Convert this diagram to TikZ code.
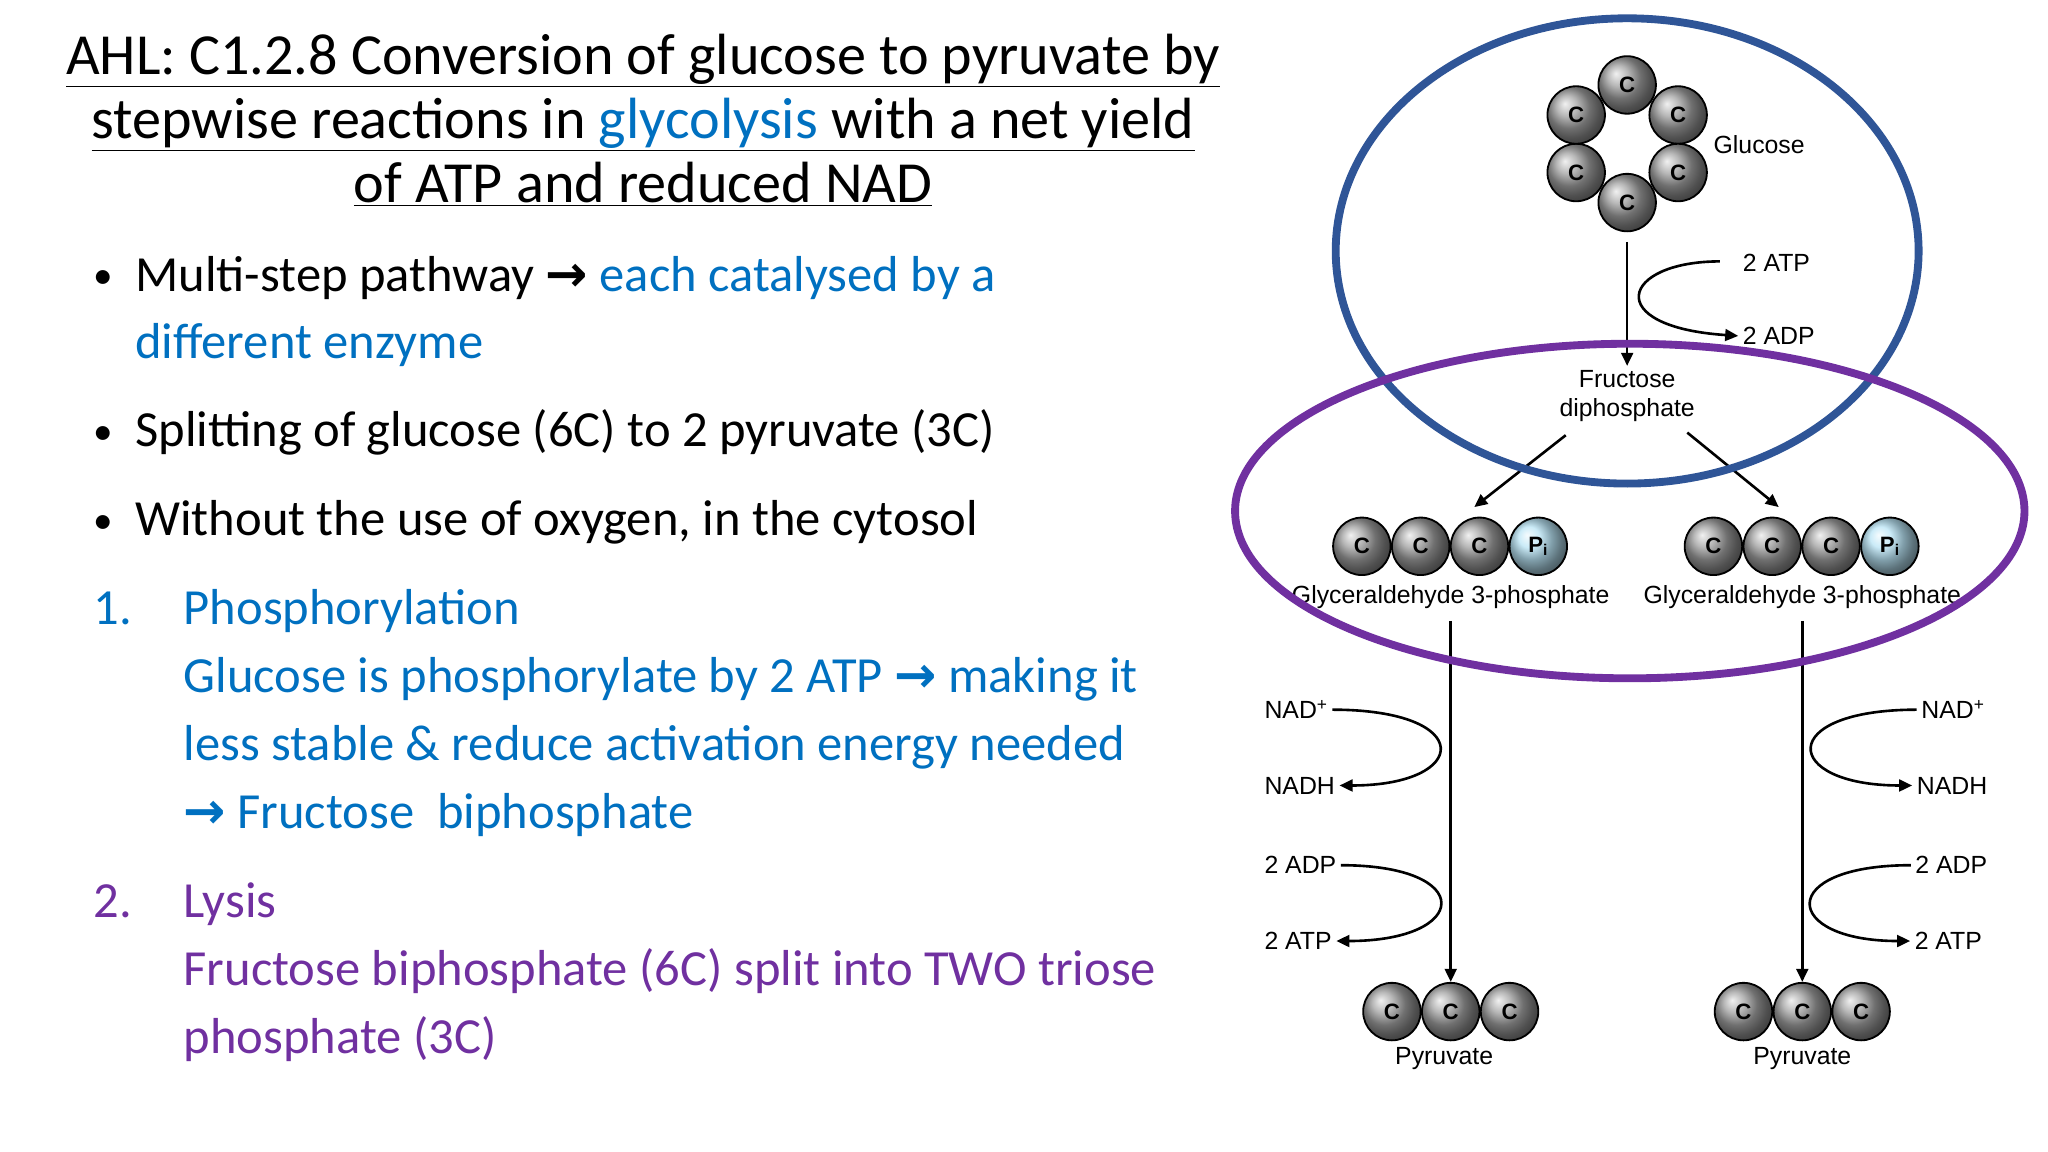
\documentclass[tikz,border=0pt]{standalone}
\usepackage{fontspec}
\setmainfont{Carlito}
\newfontfamily\arial{Liberation Sans}
\newfontfamily\dejavu{DejaVu Sans}
\usetikzlibrary{arrows.meta,shadings}
\definecolor{tblue}{RGB}{0,112,192}
\definecolor{tpurple}{RGB}{112,48,160}
\definecolor{eblue}{RGB}{47,85,151}
\definecolor{epurple}{RGB}{112,48,160}
\definecolor{piblue}{RGB}{185,228,245}
\newcommand{\rarr}{{\dejavu\bfseries →}}
\newcommand{\ul}[1]{\underline{#1}}
\tikzset{
  cball/.style={circle,draw=black,line width=1.4pt,minimum size=44pt,inner sep=0pt,ball color=gray!75,font=\arial\fontsize{17}{17}\selectfont\bfseries},
  piball/.style={cball,ball color=piblue},
  lab/.style={font=\arial\fontsize{19}{22}\selectfont,align=center},
  arr/.style={line width=2pt,-{Triangle[length=10pt,width=9pt]}},
  title/.style={font=\fontsize{44.5}{49}\selectfont,anchor=base},
  body/.style={font=\fontsize{38.7}{40}\selectfont,anchor=base west},
}
\begin{document}
\begin{tikzpicture}[x=1pt,y=-1pt]
\useasboundingbox (0,0) rectangle (1567,881);
% title
\node[title] (t1) at (492,57) {\ul{AHL: C1.2.8 Conversion of glucose to pyruvate by}};
\node[title] (t2) at (492,106) {\ul{stepwise reactions in \textcolor{tblue}{glycolysis} with a net yield}};
\node[title] (t3) at (492,155) {\ul{of ATP and reduced NAD}};
% bullets
\node[body,font=\fontsize{30}{30}\selectfont] (b1) at (68,221) {•};
\node[body] (b1t) at (100,223) {Multi-step pathway \rarr{} \textcolor{tblue}{each catalysed by a}};
\node[body,text=tblue] (b1u) at (100,274) {different enzyme};
\node[body,font=\fontsize{30}{30}\selectfont] (b2) at (68,340) {•};
\node[body] (b2t) at (100,342) {Splitting of glucose (6C) to 2 pyruvate (3C)};
\node[body,font=\fontsize{30}{30}\selectfont] (b3) at (68,408) {•};
\node[body] (b3t) at (100,410) {Without the use of oxygen, in the cytosol};
\node[body,text=tblue] (n1) at (68,478) {1.};
\node[body,text=tblue] (n1a) at (137,478) {Phosphorylation};
\node[body,text=tblue] (n1b) at (137,530) {Glucose is phosphorylate by 2 ATP \rarr{} making it};
\node[body,text=tblue] (n1c) at (137,582) {less stable \& reduce activation energy needed};
\node[body,text=tblue] (n1d) at (137,634) {\rarr{} Fructose\ \ biphosphate};
\node[body,text=tpurple] (n2) at (68,702) {2.};
\node[body,text=tpurple] (n2a) at (137,702) {Lysis};
\node[body,text=tpurple] (n2b) at (137,754) {Fructose biphosphate (6C) split into TWO triose};
\node[body,text=tpurple] (n2c) at (137,806) {phosphate (3C)};
% glucose ring
\foreach \n/\x/\y in {g1/1245/65,g2/1284/88,g3/1284/132,g4/1245/155,g5/1206/132,g6/1206/88}
  \node[cball] (\n) at (\x,\y) {C};
\node[lab] (glu) at (1346,111) {Glucose};
\node[lab] (fru) at (1245,303) {Fructose\\diphosphate};
\coordinate (gs) at (1245,185);
\draw[arr] (gs) -- (fru.north);
\node[lab,anchor=west] (atp) at (1330,201) {2 ATP};
\node[lab,anchor=west] (adp) at (1330,257) {2 ADP};
\coordinate (a0) at (1316,200);
\draw[arr] (a0) .. controls (1240,200) and (1225,250) .. (adp.west);
% split
\foreach \n/\x in {l1/1042,l2/1087,l3/1132} \node[cball] (\n) at (\x,418) {C};
\node[piball] (l4) at (1177,418) {P\textsubscript{i}};
\foreach \n/\x in {r1/1311,r2/1356,r3/1401} \node[cball] (\n) at (\x,418) {C};
\node[piball] (r4) at (1446,418) {P\textsubscript{i}};
\node[lab] (gl) at (1110,457) {Glyceraldehyde 3-phosphate};
\node[lab] (gr) at (1379,457) {Glyceraldehyde 3-phosphate};
\coordinate (fl) at (1198,333); \coordinate (fr) at (1291,331);
\coordinate (tl) at (1128,388); \coordinate (tr) at (1361,388);
\draw[arr] (fl) -- (tl);
\draw[arr] (fr) -- (tr);
% pyruvate
\foreach \n/\x in {p1/1065,p2/1110,p3/1155} \node[cball] (\n) at (\x,774) {C};
\foreach \n/\x in {q1/1334,q2/1379,q3/1424} \node[cball] (\n) at (\x,774) {C};
\node[lab] (pl) at (1105,810) {Pyruvate};
\node[lab] (pr) at (1379,810) {Pyruvate};
\coordinate (vl) at (1110,475); \coordinate (vr) at (1379,475);
\draw[arr] (vl) -- (p2.north);
\draw[arr] (vr) -- (q2.north);
% side labels
\node[lab,anchor=west] (nadl) at (964,543) {NAD\textsuperscript{+}};
\node[lab,anchor=west] (nadhl) at (964,601) {NADH};
\node[lab,anchor=west] (adpl) at (964,662) {2 ADP};
\node[lab,anchor=west] (atpl) at (964,720) {2 ATP};
\draw[arr] (nadl.east) .. controls (1130,543) and (1125,601) .. (nadhl.east);
\draw[arr] (adpl.east) .. controls (1130,662) and (1125,720) .. (atpl.east);
\node[lab,anchor=east] (nadr) at (1522,543) {NAD\textsuperscript{+}};
\node[lab,anchor=east] (nadhr) at (1524,601) {NADH};
\node[lab,anchor=east] (adpr) at (1524,662) {2 ADP};
\node[lab,anchor=east] (atpr) at (1520,720) {2 ATP};
\draw[arr] (nadr.west) .. controls (1358,543) and (1363,601) .. (nadhr.west);
\draw[arr] (adpr.west) .. controls (1358,662) and (1363,720) .. (atpr.west);
% ellipses
\draw[eblue,line width=6pt] (1245,192) ellipse [x radius=223, y radius=178];
\draw[epurple,line width=6pt] (1247,391) ellipse [x radius=302, y radius=128];
\end{tikzpicture}
\end{document}
